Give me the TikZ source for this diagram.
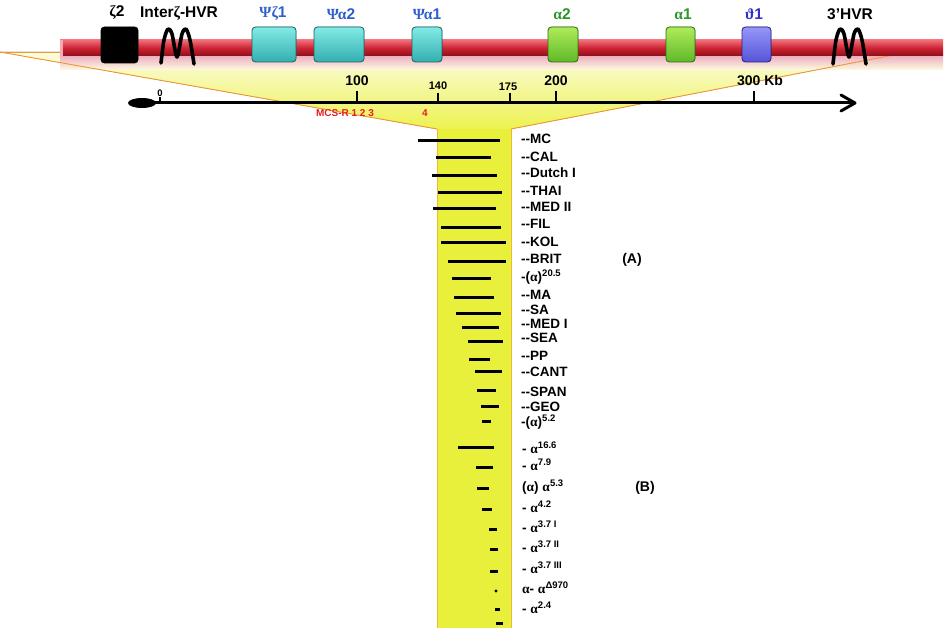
\documentclass[tikz,border=0pt]{standalone}
\usepackage{fontspec}
\setmainfont{Liberation Sans}
\newfontfamily\gkfont{Liberation Serif}
\definecolor{barTop}{RGB}{240,110,120}
\definecolor{barMid}{RGB}{205,35,50}
\definecolor{barBot}{RGB}{140,15,25}
\definecolor{glow}{RGB}{236,170,190}
\definecolor{trapTop}{RGB}{252,252,225}
\definecolor{trapBot}{RGB}{236,242,80}
\definecolor{colY}{RGB}{232,240,60}
\definecolor{edgeO}{RGB}{240,150,50}
\definecolor{cyTop}{RGB}{130,235,230}
\definecolor{cyBot}{RGB}{50,175,175}
\definecolor{cyEdge}{RGB}{30,100,100}
\definecolor{grTop}{RGB}{175,235,90}
\definecolor{grBot}{RGB}{95,185,40}
\definecolor{grEdge}{RGB}{50,110,20}
\definecolor{puTop}{RGB}{150,150,250}
\definecolor{puBot}{RGB}{85,85,215}
\definecolor{puEdge}{RGB}{35,35,130}
\definecolor{gkBlue}{RGB}{45,95,205}
\definecolor{gkGreen}{RGB}{40,150,40}
\definecolor{gkPurple}{RGB}{50,50,200}
\definecolor{mcsRed}{RGB}{230,30,30}
\newcommand\ga{{\gkfont α}}
\newcommand\supx[1]{\raisebox{0.75ex}{\fontsize{9.5}{10}\selectfont #1}}
\tikzset{
  vshade/.style 2 args={top color=#1, bottom color=#2},
  genebox/.style={rounded corners=3.5pt, line width=0.8pt},
  cybox/.style={genebox, draw=cyEdge, vshade={cyTop}{cyBot}},
  grbox/.style={genebox, draw=grEdge, vshade={grTop}{grBot}},
  pubox/.style={genebox, draw=puEdge, vshade={puTop}{puBot}},
  toplab/.style={font=\fontsize{15.5}{17}\selectfont\bfseries, inner sep=0pt},
  ticklab/.style={font=\fontsize{14}{16}\selectfont\bfseries, inner sep=0pt},
  smalltick/.style={font=\fontsize{11}{12}\selectfont\bfseries, inner sep=0pt},
  listlab/.style={font=\fontsize{13.5}{15}\selectfont\bfseries, anchor=west, inner sep=0pt},
  seg/.style={line width=3pt},
  squig/.style={line width=3.6pt, line cap=round, line join=round},
  edgeline/.style={draw=edgeO, line width=0.9pt}
}
\begin{document}
\begin{tikzpicture}[x=1pt,y=-1pt]
\useasboundingbox (0,0) rectangle (947,628);
% yellow funnel
\fill[vshade={trapTop}{trapBot}] (0,52) -- (909,52) -- (511,129) -- (437,129) -- cycle;
\fill[colY] (437,129) rectangle (511,628);
\draw[draw=edgeO!60!colY, line width=0.8pt] (437,129) -- (437,628) (511,129) -- (511,628);
% glow under bar
\fill[vshade={glow}{trapTop}] (60,55) rectangle (943,70);
\draw[edgeline] (0,52) -- (437,129);
\draw[edgeline] (909,52) -- (511,129);
\draw[edgeline] (0,52) -- (62,52);
% red bar
\fill[top color=barTop, bottom color=barBot, middle color=barMid] (60,40) rectangle (943,56);
\fill[barTop!60!white] (60,40) rectangle (63,56);
% gene boxes
\filldraw[genebox, fill=black, draw=black] (101,27) rectangle (138,63);
\filldraw[cybox] (252,27) rectangle (296,62);
\filldraw[cybox] (314,27) rectangle (364,62);
\filldraw[cybox] (412,27) rectangle (442,62);
\filldraw[grbox] (548,27) rectangle (578,62);
\filldraw[grbox] (666,27) rectangle (695,62);
\filldraw[pubox] (742,27) rectangle (771,62);
% squiggles
\draw[squig] plot[smooth, tension=0.5] coordinates {(161,63) (164,40) (168,29) (172,34) (177,57) (182,34) (186,29) (190,40) (194,64)};
\draw[squig] plot[smooth, tension=0.5] coordinates {(833,64) (836,40) (840,29) (844,34) (849,57) (854,34) (858,29) (862,40) (866,64)};
% top labels
\node[toplab] (lz2) at (117,13) {{\gkfont ζ}2};
\node[toplab] (lihvr) at (179,14) {Inter{\gkfont ζ}-HVR};
\node[toplab, text=gkBlue] (lpz1) at (273,14) {{\gkfont Ψζ}1};
\node[toplab, text=gkBlue] (lpa2) at (341,14) {{\gkfont Ψα}2};
\node[toplab, text=gkBlue] (lpa1) at (427,14) {{\gkfont Ψα}1};
\node[toplab, text=gkGreen] (la2) at (562,14) {{\gkfont α}2};
\node[toplab, text=gkGreen] (la1) at (683,14) {{\gkfont α}1};
\node[toplab, text=gkPurple] (lt1) at (754,14) {{\gkfont ϑ}1};
\node[toplab] (l3hvr) at (850,14) {3’HVR};
% axis
\fill[black] (142,103) ellipse (14 and 5);
\draw[line width=3pt] (150,103) -- (854,103);
\draw[line width=3pt, line cap=round, line join=round] (841,95) -- (855,103) -- (841,111);
\draw[line width=1.6pt] (160,97) -- (160,103);
\node[font=\fontsize{9.5}{10}\selectfont\bfseries, inner sep=0pt] (t0) at (160,93) {0};
\draw[line width=1.6pt] (357,91) -- (357,103);
\node[ticklab] (t100) at (357,81) {100};
\draw[line width=1.6pt] (438,93) -- (438,103);
\node[smalltick] (t140) at (438,86) {140};
\draw[line width=1.6pt] (510,93) -- (510,103);
\node[smalltick] (t175) at (508,87) {175};
\draw[line width=1.6pt] (556,91) -- (556,103);
\node[ticklab] (t200) at (556,81) {200};
\draw[line width=1.6pt] (754,91) -- (754,103);
\node[ticklab] (t300) at (760,81) {300 Kb};
\node[font=\fontsize{10}{11}\selectfont\bfseries, text=mcsRed, inner sep=0pt] (mcs) at (345,113) {MCS-R 1 2 3};
\node[font=\fontsize{10}{11}\selectfont\bfseries, text=mcsRed, inner sep=0pt] (mcs4) at (425,113) {4};
% deletion segments
\foreach \ya/\xa/\xb in {141/418/500, 158/436/491, 176/432/497, 193/438/502, 209/433/496,
  228/441/501, 243/441/506, 262/448/506, 278/452/491, 297/454/494, 313/456/501,
  327/462/499, 341/468/503, 359/469/490, 371/475/502, 390/477/496, 406/481/499,
  421/482/491, 447/458/494, 467/476/493, 488/477/489, 509/482/492, 529/489/497,
  549/490/498, 571/490/498, 609/495/500, 623/496/503}
  \draw[seg] (\xa,\ya) -- (\xb,\ya);
\fill (496,591) circle (1.6);
% list labels
\node[listlab] (n1) at (521,139) {-{}-MC};
\node[listlab] (n2) at (521,157) {-{}-CAL};
\node[listlab] (n3) at (521,173) {-{}-Dutch I};
\node[listlab] (n4) at (521,191) {-{}-THAI};
\node[listlab] (n5) at (521,207) {-{}-MED II};
\node[listlab] (n6) at (521,224) {-{}-FIL};
\node[listlab] (n7) at (521,242) {-{}-KOL};
\node[listlab] (n8) at (521,259) {-{}-BRIT};
\node[listlab] (n9) at (521,277) {-(\ga)\supx{20.5}};
\node[listlab] (n10) at (521,295) {-{}-MA};
\node[listlab] (n11) at (521,310) {-{}-SA};
\node[listlab] (n12) at (521,324) {-{}-MED I};
\node[listlab] (n13) at (521,338) {-{}-SEA};
\node[listlab] (n14) at (521,356) {-{}-PP};
\node[listlab] (n15) at (521,372) {-{}-CANT};
\node[listlab] (n16) at (521,392) {-{}-SPAN};
\node[listlab] (n17) at (521,407) {-{}-GEO};
\node[listlab] (n18) at (521,422) {-(\ga)\supx{5.2}};
\node[listlab] (n19) at (522,448) {- \ga\supx{16.6}};
\node[listlab] (n20) at (522,465) {- \ga\supx{7.9}};
\node[listlab] (n21) at (522,487) {(\ga) \ga\supx{5.3}};
\node[listlab] (n22) at (522,507) {- \ga\supx{4.2}};
\node[listlab] (n23) at (522,527) {- \ga\supx{3.7 I}};
\node[listlab] (n24) at (522,547) {- \ga\supx{3.7 II}};
\node[listlab] (n25) at (522,568) {- \ga\supx{3.7 III}};
\node[listlab] (n26) at (522,588) {\ga- \ga\supx{Δ970}};
\node[listlab] (n27) at (522,608) {- \ga\supx{2.4}};
\node[font=\fontsize{14}{16}\selectfont\bfseries, inner sep=0pt] (lA) at (632,260) {(A)};
\node[font=\fontsize{14}{16}\selectfont\bfseries, inner sep=0pt] (lB) at (645,488) {(B)};
\end{tikzpicture}
\end{document}
